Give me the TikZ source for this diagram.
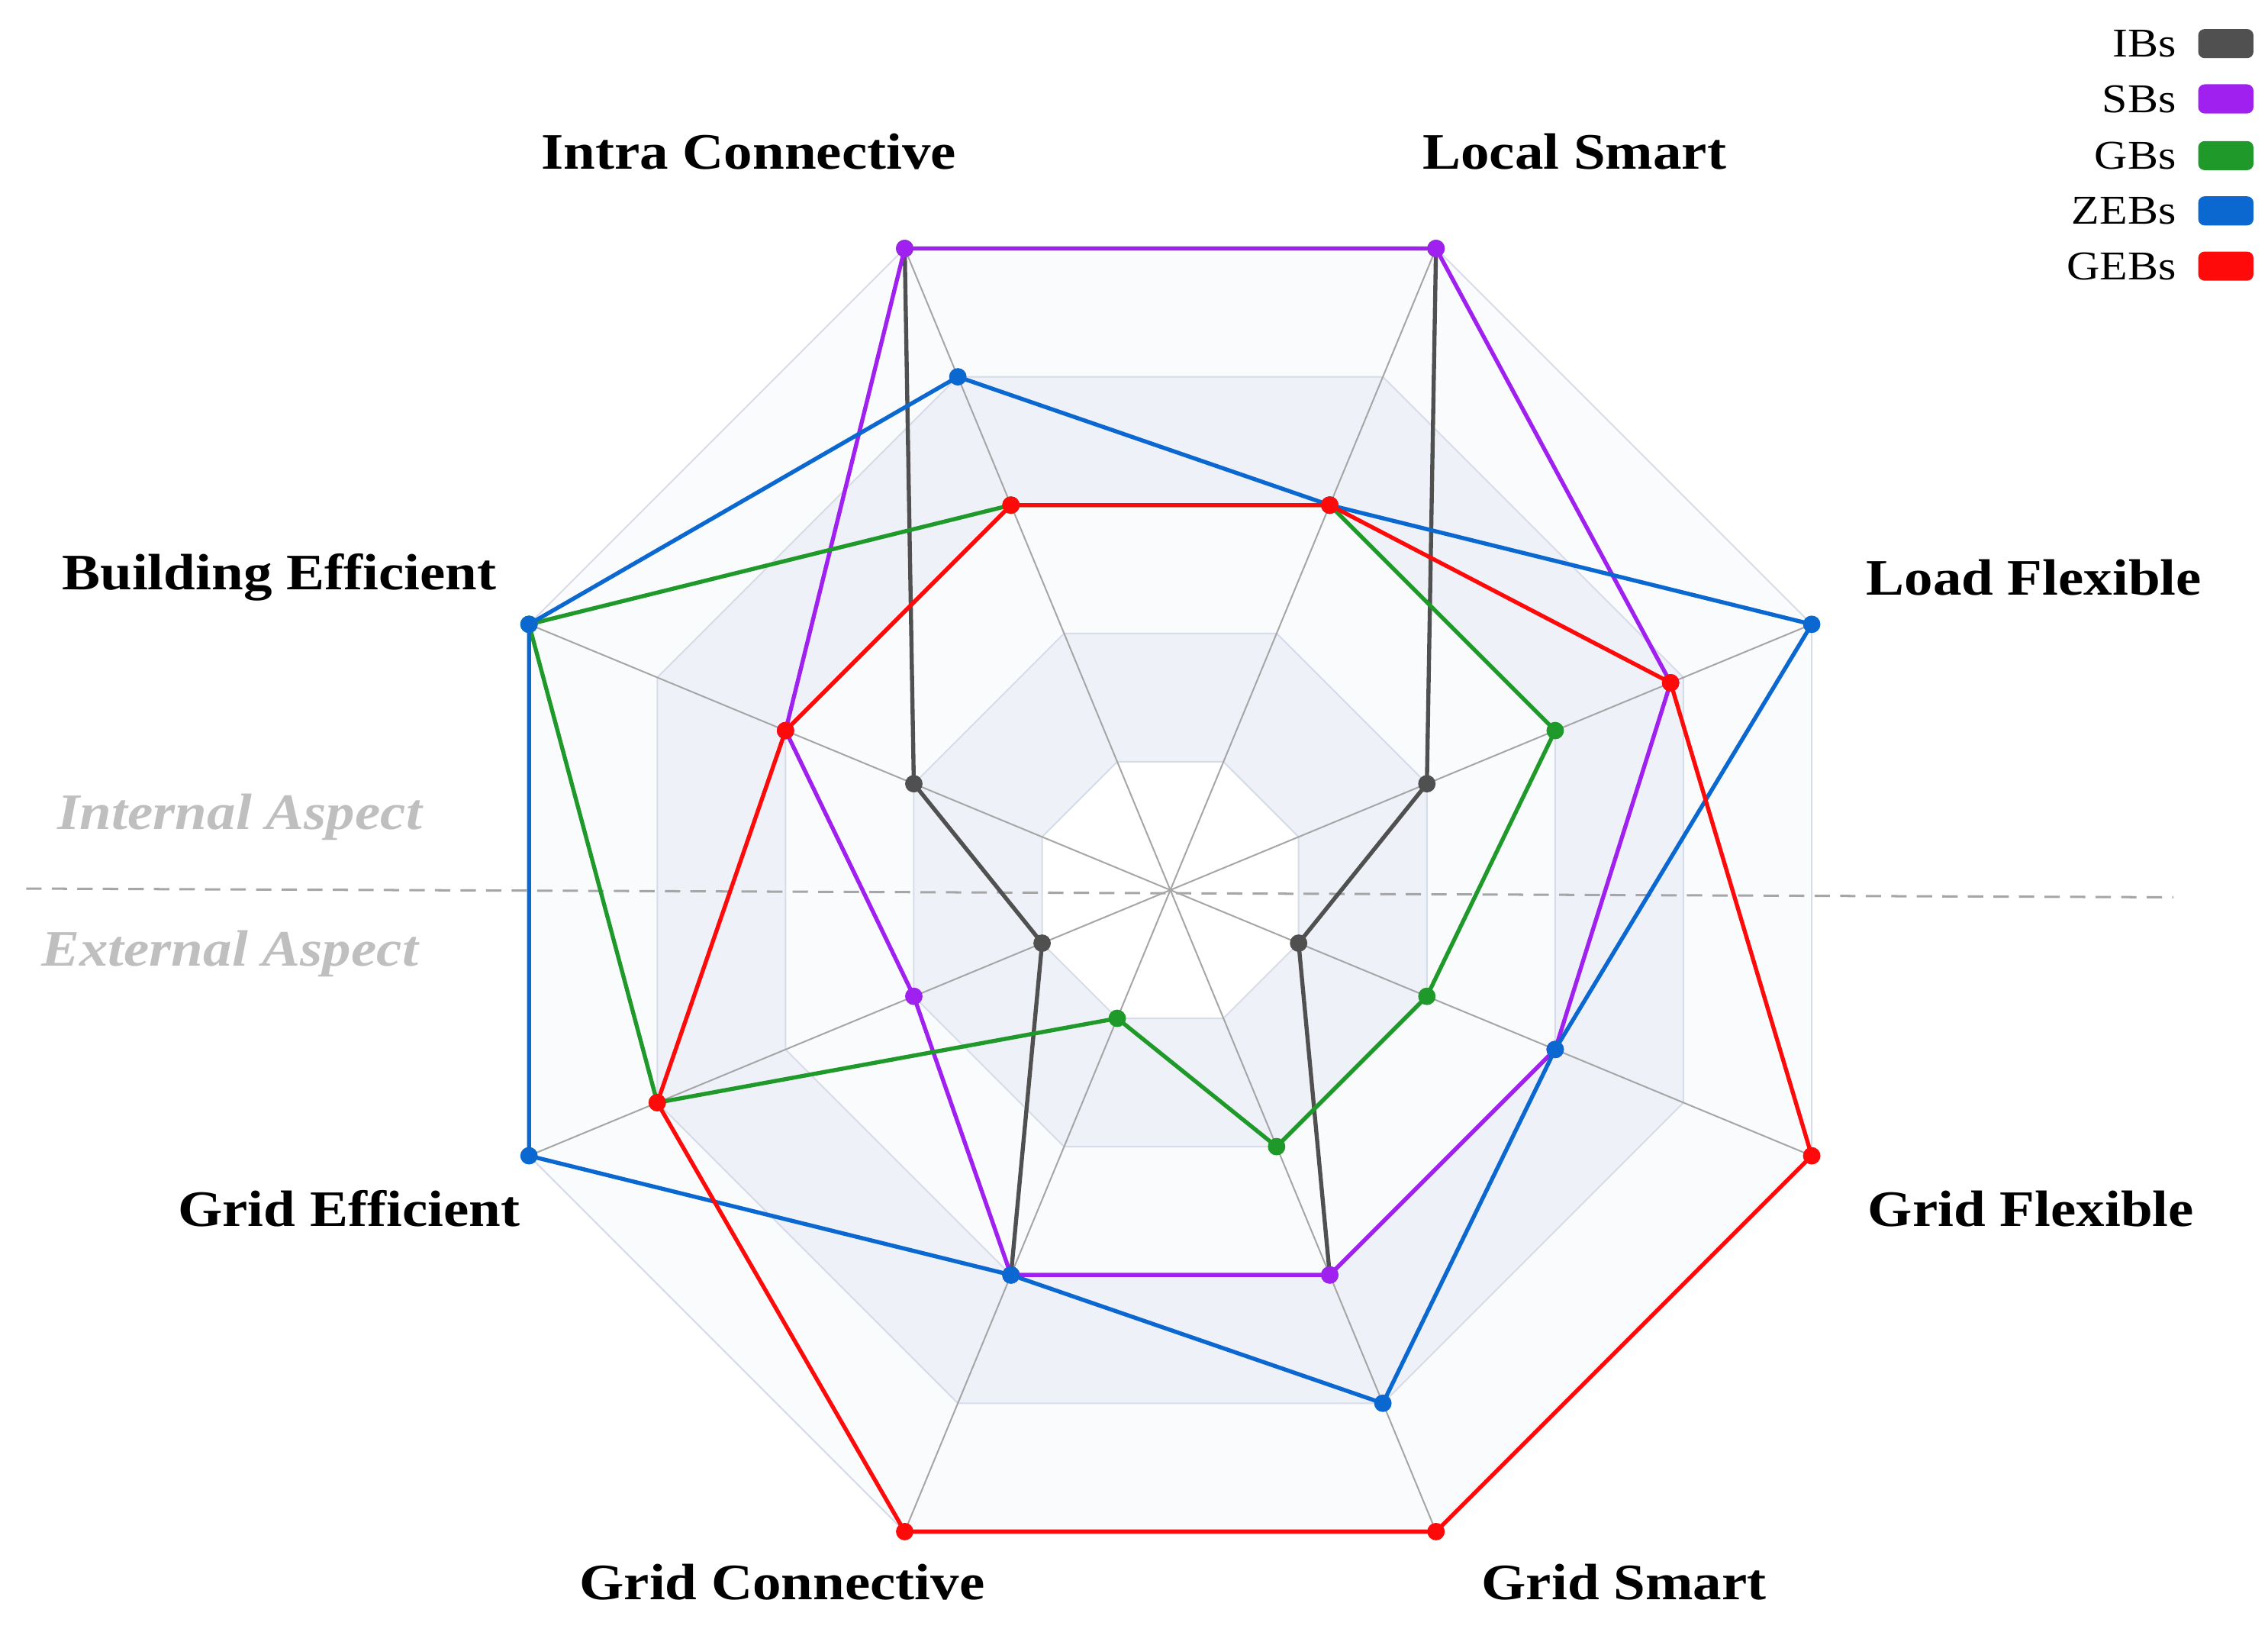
\documentclass[tikz,border=0pt]{standalone}
\usepackage{fontspec}
\setmainfont[FakeStretch=1.12]{Liberation Serif}
\usetikzlibrary{calc}
\definecolor{cIB}{HTML}{505050}
\definecolor{cSB}{HTML}{A020F0}
\definecolor{cGB}{HTML}{1F9A2A}
\definecolor{cZEB}{HTML}{0A68D0}
\definecolor{cGEB}{HTML}{FF0A0A}
\definecolor{gridc}{HTML}{D6DCE8}
\definecolor{bandA}{HTML}{EEF1F8}
\definecolor{bandB}{HTML}{FAFBFD}
\tikzset{
  axlabel/.style={font=\bfseries\fontsize{20}{22}\selectfont},
  aspect/.style={font=\bfseries\itshape\fontsize{20}{22}\selectfont,text=black!25},
  leglabel/.style={font=\fontsize{16}{18}\selectfont,anchor=east},
  series/.style={line width=1.6pt,line join=round},
}
\def\R{9.55}
\newcommand\octa[1]{($(O)+(112.5:#1*\R)$)--($(O)+(67.5:#1*\R)$)--($(O)+(22.5:#1*\R)$)--($(O)+(-22.5:#1*\R)$)--($(O)+(-67.5:#1*\R)$)--($(O)+(-112.5:#1*\R)$)--($(O)+(-157.5:#1*\R)$)--($(O)+(157.5:#1*\R)$)--cycle}
\newcommand\myseries[3]{%
  \foreach \v [count=\i] in {#3} {\pgfmathsetmacro\a{112.5-45*(\i-1)}\coordinate (#1\i) at ($(O)+(\a:\v*\R)$);}
  \draw[series,#2] (#11)--(#12)--(#13)--(#14)--(#15)--(#16)--(#17)--(#18)--cycle;
  \foreach \i in {1,...,8} \fill[#2] (#1\i) circle (0.12);
}
\begin{document}
\begin{tikzpicture}
\useasboundingbox (0,0) rectangle (31.2,-22.4);
\fill[white] (0,0) rectangle (31.2,-22.4);
\coordinate (O) at (16.1,-12.24);
% grid
\fill[bandB] \octa{1.0};
\fill[bandA] \octa{0.8};
\fill[bandB] \octa{0.6};
\fill[bandA] \octa{0.4};
\fill[white] \octa{0.2};
\foreach \r in {0.2,0.4,0.6,0.8,1.0} \draw[gridc,line width=0.6pt] \octa{\r};
\foreach \a in {112.5,67.5,22.5,-22.5,-67.5,-112.5,-157.5,157.5}
  \draw[black!35,line width=0.6pt] (O) -- ($(O)+(\a:\R)$);
% aspect divider
\coordinate (dL) at (0.36,-12.22);
\coordinate (dR) at (29.9,-12.34);
\draw[black!35,dashed,line width=0.9pt,dash pattern=on 6pt off 4pt] (dL) -- (dR);
\node[aspect] (ia) at (3.3,-11.24) {Internal Aspect};
\node[aspect] (ea) at (3.16,-13.12) {External Aspect};
% series
\myseries{IB}{cIB}{1,1,0.4,0.2,0.6,0.6,0.2,0.4}
\myseries{SB}{cSB}{1,1,0.78,0.6,0.6,0.6,0.4,0.6}
\myseries{GB}{cGB}{0.6,0.6,0.6,0.4,0.4,0.2,0.8,1}
\myseries{ZEB}{cZEB}{0.8,0.6,1,0.6,0.8,0.6,1,1}
\myseries{GEB}{cGEB}{0.6,0.6,0.78,1,1,1,0.8,0.6}
% axis labels
\node[axlabel] (l1) at (10.3,-2.08) {Intra Connective};
\node[axlabel] (l2) at (21.66,-2.08) {Local Smart};
\node[axlabel] (l3) at (27.98,-7.94) {Load Flexible};
\node[axlabel] (l4) at (3.84,-7.94) {Building Efficient};
\node[axlabel] (l5) at (4.8,-16.62) {Grid Efficient};
\node[axlabel] (l6) at (27.94,-16.62) {Grid Flexible};
\node[axlabel] (l7) at (10.76,-21.76) {Grid Connective};
\node[axlabel] (l8) at (22.34,-21.76) {Grid Smart};
% legend
\foreach \n/\c/\y in {IBs/cIB/0.6,SBs/cSB/1.36,GBs/cGB/2.14,ZEBs/cZEB/2.9,GEBs/cGEB/3.66}{
  \node[leglabel] (t\n) at (30.06,-\y) {\n};
  \fill[\c,rounded corners=2.5pt] (30.24,-\y-0.2) rectangle (31.0,-\y+0.2);
}
\end{tikzpicture}
\end{document}
